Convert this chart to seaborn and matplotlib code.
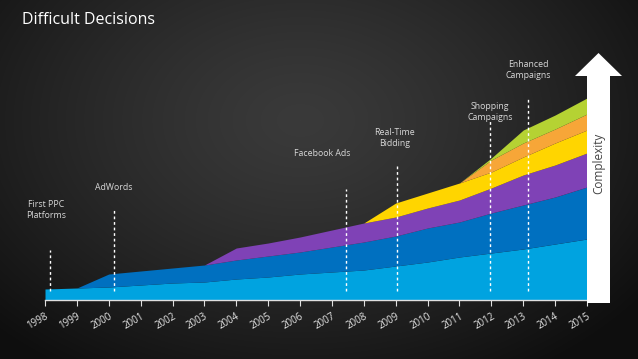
import numpy as np
import matplotlib.pyplot as plt
import seaborn as sns
from matplotlib.patches import Polygon

# --- data (heights of each stacked layer, in px units) ---
years = list(range(1998, 2016))
search = [11, 12, 13, 15, 17, 18, 21, 23, 26, 28, 30, 34, 38, 43, 47, 51, 56, 61]
adwords = [0, 0, 13, 14, 15, 17, 19, 21, 22, 25, 28, 30, 34, 35, 40, 44, 47, 52]
social = [0, 0, 0, 0, 0, 0, 12, 13, 15, 17, 19, 19, 20, 22, 25, 30, 32, 34]
rtb = [0, 0, 0, 0, 0, 0, 0, 0, 0, 0, 0, 14, 15, 17, 16, 18, 22, 23]
shopping = [0, 0, 0, 0, 0, 0, 0, 0, 0, 0, 0, 0, 0, 0, 12, 14, 14, 16]
enhanced = [0, 0, 0, 0, 0, 0, 0, 0, 0, 0, 0, 0, 0, 0, 2, 13, 14, 16]
layer_colors = ["#00a3e0", "#0070c0", "#7f42b6", "#ffd500", "#f7a638", "#b5d233"]

events = ["First PPC\nPlatforms", "AdWords", "Facebook Ads", "Real-Time\nBidding",
          "Shopping\nCampaigns", "Enhanced\nCampaigns"]
event_year = [1998.15, 2000.15, 2007.45, 2009.05, 2011.95, 2013.15]
event_top = [50, 90, 111, 135, 180, 202]
label_year = [1998.05, 2000.15, 2006.7, 2008.97, 2011.95, 2013.15]
label_y = [90, 113, 146, 162, 188, 230]

sns.set_theme(style="dark", rc={"axes.facecolor": "#1a1a1a", "figure.facecolor": "#1a1a1a"})
plt.rcParams["font.family"] = ["Open Sans", "DejaVu Sans"]

W, H = 638, 359
fig = plt.figure(figsize=(W / 100, H / 100), dpi=100)
ax = fig.add_axes([0, 0, 1, 1])

# map: 1998 -> px 45, 2015 -> px 587, baseline at px 300
ppy = (587 - 45) / 17
x0 = 1998 - 45 / ppy
x1 = 1998 + (W - 45) / ppy
ax.set_xlim(x0, x1)
ax.set_ylim(300 - H, 300)

# radial background
yy, xx = np.mgrid[0:H, 0:W]
d = np.sqrt(((xx - 300) / 430) ** 2 + ((yy - 120) / 300) ** 2)
t = np.clip(d, 0, 1) ** 1.3
g = (58 * (1 - t) + 14 * t) / 255
bg = np.dstack([g, g, g])
ax.imshow(bg, extent=[x0, x1, 300 - H, 300], aspect="auto", zorder=0, origin="upper")

ax.stackplot(years, search, adwords, social, rtb, shopping, enhanced,
             colors=layer_colors, linewidth=0, zorder=2)

# event markers
for name, ex, top, lx, ly in zip(events, event_year, event_top, label_year, label_y):
    ax.plot([ex, ex], [9, top], color="white", lw=1, ls=(0, (2, 2)), zorder=3)
    ax.text(lx, ly, name, color="#d8d8d8", fontsize=6.3, ha="center", va="center",
            linespacing=1.3, zorder=4)

# axis line + ticks
for s in ["top", "right", "left"]:
    ax.spines[s].set_visible(False)
ax.spines["bottom"].set_position(("data", 0))
ax.spines["bottom"].set_bounds(1998, 2015)
ax.spines["bottom"].set_color("#e0e0e0")
ax.spines["bottom"].set_linewidth(1)
ax.spines["bottom"].set_zorder(5)
ax.set_xticks(years)
ax.set_xticklabels([str(y) for y in years])
ax.set_yticks([])
ax.tick_params(axis="x", bottom=True, direction="out", length=4, width=0.8,
               color="#e0e0e0", labelcolor="#e6e6e6", labelsize=7, pad=4)
for lbl in ax.get_xticklabels():
    lbl.set_rotation(30)
    lbl.set_ha("right")
    lbl.set_rotation_mode("anchor")
ax.grid(False)

# complexity arrow (figure pixel space)
px = lambda x, y: ((x) / W, 1 - y / H)
arrow_pts = [px(587, 303), px(610, 303), px(610, 76), px(622, 76), px(598.5, 53),
             px(575, 76), px(587, 76)]
fig.patches.append(Polygon(arrow_pts, closed=True, facecolor="white", edgecolor="none",
                           transform=fig.transFigure, zorder=6))
fig.text(598.5 / W, 1 - 163 / H, "Complexity", rotation=90, color="#444444",
         fontsize=8.5, ha="center", va="center", zorder=7)

fig.text(22 / W, 1 - 20 / H, "Difficult Decisions", color="white", fontsize=11.5,
         ha="left", va="center")

fig.savefig("out.png", dpi=100)
